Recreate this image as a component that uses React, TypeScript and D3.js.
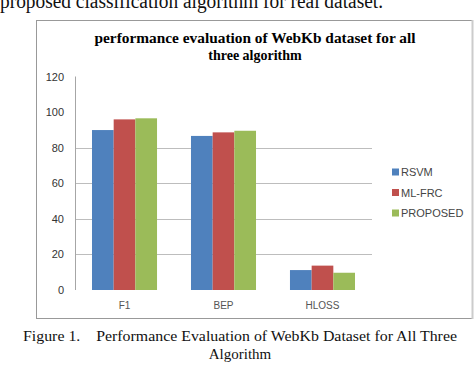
import React from "react";
import * as d3 from "d3";

const categories = ["F1", "BEP", "HLOSS"];
const seriesNames = ["RSVM", "ML-FRC", "PROPOSED"];
const rsvm = [89.9, 86.6, 11.2];
const mlfrc = [95.9, 88.6, 13.7];
const proposed = [96.5, 89.5, 9.7];
const yTicks = [0, 20, 40, 60, 80, 100, 120];
const gridTicks = [20, 40, 60, 80];
const colors = ["#4F81BD", "#C0504D", "#9BBB59"];

export default function App() {
  const W = 474, H = 365;
  const values = [rsvm, mlfrc, proposed];
  const x0 = d3.scaleBand<string>().domain(categories).range([75, 372]).paddingInner(0.343).paddingOuter(0.1717);
  const x1 = d3.scaleBand<string>().domain(seriesNames).range([0, x0.bandwidth()]);
  const y = d3.scaleLinear().domain([0, 120]).range([290, 76.5]);
  const sans = "'Liberation Sans', Arial, sans-serif";
  const serif = "'Liberation Serif', 'Times New Roman', serif";
  return (
    <svg width={W} height={H} style={{ position: "absolute", left: 0, top: 0, background: "#fff" }}>
      <text x={0} y={8} fontFamily={serif} fontSize={20} fill="#111" textLength={383} lengthAdjust="spacingAndGlyphs">proposed classification algorithm for real dataset.</text>
      <rect x={36.5} y={20.5} width={436} height={298} fill="#fff" stroke="#999" strokeWidth={1} />
      <line x1={472.5} y1={20} x2={472.5} y2={319} stroke="#ccc" strokeWidth={2} />
      <text x={255} y={43} textAnchor="middle" fontFamily={serif} fontWeight="bold" fontSize={14} fill="#000" textLength={321} lengthAdjust="spacingAndGlyphs">performance evaluation of WebKb dataset for all</text>
      <text x={255} y={60} textAnchor="middle" fontFamily={serif} fontWeight="bold" fontSize={14} fill="#000">three algorithm</text>
      {gridTicks.map((t) => (
        <line key={t} x1={75} x2={372} y1={Math.round(y(t)) + 0.5} y2={Math.round(y(t)) + 0.5} stroke="#bdbdbd" strokeWidth={1} />
      ))}
      <line x1={75.5} x2={75.5} y1={y(120)} y2={y(0)} stroke="#a6a6a6" strokeWidth={1} />
      {yTicks.map((t) => (
        <text key={t} x={64} y={y(t) + 4} textAnchor="end" fontFamily={sans} fontSize={11} fill="#333">{t}</text>
      ))}
      {categories.map((c, ci) => (
        <g key={c}>
          {seriesNames.map((s, si) => (
            <rect key={s} x={(x0(c) as number) + (x1(s) as number)} width={x1.bandwidth()} y={y(values[si][ci])} height={y(0) - y(values[si][ci])} fill={colors[si]} />
          ))}
          <text x={(x0(c) as number) + x0.bandwidth() / 2} y={309} textAnchor="middle" fontFamily={sans} fontSize={10} fill="#555">{c}</text>
        </g>
      ))}
      {seriesNames.map((s, si) => (
        <g key={s} transform={`translate(392, ${172 + si * 20.5})`}>
          <rect x={0} y={-3.5} width={7} height={7} fill={colors[si]} />
          <text x={9} y={4} fontFamily={sans} fontSize={11} fill="#444">{s}</text>
        </g>
      ))}
      <text x={240} y={341} textAnchor="middle" fontFamily={serif} fontSize={15} fill="#111" textLength={434} lengthAdjust="spacingAndGlyphs" style={{ whiteSpace: "pre" }}>{"Figure 1.    Performance Evaluation of WebKb Dataset for All Three"}</text>
      <text x={240} y={359} textAnchor="middle" fontFamily={serif} fontSize={15} fill="#111">Algorithm</text>
    </svg>
  );
}
